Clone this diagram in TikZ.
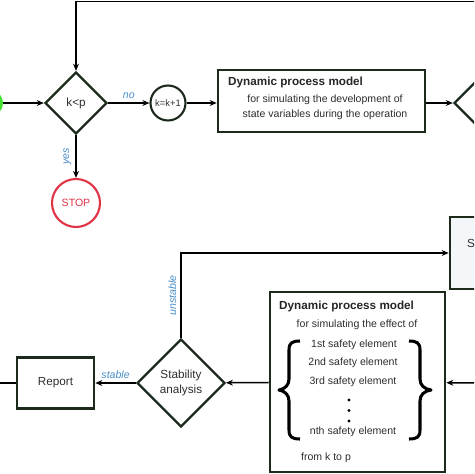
\documentclass[tikz,border=0pt]{standalone}
\usepackage{fontspec}
\setmainfont{Liberation Sans}
\usetikzlibrary{arrows.meta,shapes.geometric}
\definecolor{boxline}{RGB}{28,42,28}
\definecolor{lblblue}{RGB}{70,140,200}
\definecolor{stopred}{RGB}{225,50,70}
\definecolor{startgreen}{RGB}{70,225,50}
\definecolor{txtgray}{RGB}{45,45,45}
\definecolor{boxfill}{RGB}{244,247,250}
\tikzset{
	flow/.style={line width=1.3pt, -{Stealth[length=6pt,width=5pt]}},
	block/.style={draw=boxline, line width=2.2pt, rectangle, inner sep=0pt},
	decide/.style={draw=boxline, line width=2pt, diamond, aspect=1, inner sep=0pt, align=center, text=txtgray},
	ring/.style={draw=boxline, line width=1.8pt, circle, inner sep=0pt, text=txtgray},
	lbl/.style={text=lblblue, font=\fontsize{9}{10}\selectfont\itshape},
	ttl/.style={font=\fontsize{10}{12}\selectfont\bfseries, text=black!85},
	body/.style={font=\fontsize{9}{12.5}\selectfont, text=txtgray, align=center},
	brc/.style={line width=2.6pt, line join=round},
}

\begin{document}
\begin{tikzpicture}[x=0.03cm, y=-0.03cm]
		%%%%% START %%%%%
		\clip (0,0) rectangle (474,474);
		
		% upper row
		\node[ring, fill=startgreen, draw=startgreen, minimum size=0.72cm] (start) at (-10,103) {};
		\node[decide, minimum size=1.86cm, font=\fontsize{10}{12}\selectfont] (kp) at (76,103) {k<p};
		\node[ring, minimum size=1.05cm, font=\fontsize{8}{10}\selectfont] (inc) at (168,103) {k=k+1};
		\node[block, minimum width=6.21cm, minimum height=1.86cm] (dpm1) at (321.5,101) {};
		\node[ttl, anchor=west, inner sep=0pt] (dpm1t) at (228,82) {Dynamic process model};
		\node[body] (dpm1b) at (325,107) {for simulating the development of\\state variables during the operation};
		\node[decide, minimum size=1.86cm] (chk) at (485,103) {};
		\node[ring, draw=stopred, text=stopred, minimum size=1.44cm, font=\fontsize{9}{10}\selectfont] (stop) at (76,203) {STOP};
		
		% lower row
		\node[block, fill=boxfill, minimum width=1.8cm, minimum height=2.16cm] (sbox) at (480,253) {};
		\node[anchor=west, inner sep=0pt, text=txtgray, font=\fontsize{10}{12}\selectfont] (sboxt) at (467,243) {S};
		\node[decide, minimum size=2.64cm, font=\fontsize{10}{12.5}\selectfont] (stab) at (181,383) {Stability\\analysis};
		\node[block, minimum width=2.31cm, minimum height=1.53cm, text=txtgray, font=\fontsize{10}{12}\selectfont] (report) at (55.5,383) {Report};
		\node[block, minimum width=5.25cm, minimum height=5.4cm] (dpm2) at (357.5,382) {};
		\node[ttl, anchor=west, inner sep=0pt] (dpm2t) at (279,306) {Dynamic process model};
		\node[body] (dpm2s) at (357,325) {for simulating the effect of};
		\node[body] (se1) at (354,345) {1st safety element};
		\node[body] (se2) at (353,363) {2nd safety element};
		\node[body] (se3) at (353,382) {3rd safety element};
		\node[body] (sen) at (353,432) {nth safety element};
		\node[body] (kto) at (326,458) {from k to p};
		\foreach \y in {400,410.5,421}
			\fill (349,\y) circle (1.6);
		
		% braces
		\draw[brc] (300,341) .. controls (292,341) and (289,343) .. (289,350) -- (289,379) .. controls (289,385) and (285,389) .. (279,390) .. controls (285,391) and (289,395) .. (289,401) -- (289,430) .. controls (289,437) and (292,439) .. (300,439);
		\draw[brc] (409,341) .. controls (417,341) and (420,343) .. (420,350) -- (420,379) .. controls (420,385) and (424,389) .. (431,390) .. controls (424,391) and (420,395) .. (420,401) -- (420,430) .. controls (420,437) and (417,439) .. (409,439);
		
		% connectors
		\coordinate (topR) at (480,1.5);
		\coordinate (leftEnd) at (-5,383);
		\coordinate (rightIn) at (480,383);
		
		\draw[flow] (start) -- (kp);
		\draw[flow] (kp) -- node[lbl, above]{no} (inc);
		\draw[flow] (inc) -- (inc -| dpm1.west);
		\draw[flow] (dpm1.east |- chk.west) -- (chk.west);
		\draw[flow] (topR) -| (kp);
		\draw[flow] (kp) -- node[lbl, rotate=90, anchor=south]{yes} (stop);
		
		\draw[flow] (stab) |- node[lbl, rotate=90, anchor=south, pos=0.25]{unstable} (sbox);
		\draw[flow] (stab) -- node[lbl, above]{stable} (report);
		\draw[line width=1.3pt] (report) -- (leftEnd);
		\draw[flow] (dpm2) -- (stab);
		\draw[flow] (rightIn) -- (dpm2);
		
		%%%%% END %%%%%
\end{tikzpicture}
\end{document}
